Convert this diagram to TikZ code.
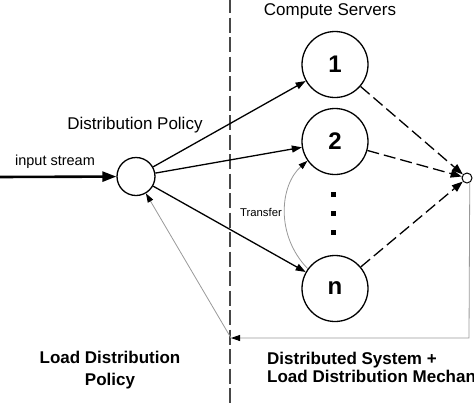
\documentclass[tikz,border=0pt]{standalone}
\usepackage{fontspec}
\setmainfont{Liberation Sans}
\usetikzlibrary{arrows.meta}
\begin{document}
\begin{tikzpicture}[x=1pt,y=-1pt,
  srv/.style={circle,draw,line width=1.3pt,minimum size=66pt,inner sep=0pt,font=\fontsize{24}{26}\selectfont\bfseries},
  dist/.style={circle,draw,line width=1.3pt,minimum size=38pt,inner sep=0pt},
  sink/.style={circle,draw,line width=1pt,minimum size=10pt,inner sep=0pt},
  flow/.style={line width=1.3pt,-{Triangle[length=10pt,width=7pt]}},
  outflow/.style={line width=1.3pt,dash pattern=on 12pt off 5pt,-{Triangle[length=11pt,width=8pt]}},
  back/.style={draw=black!40,line width=0.8pt},
  backarrow/.style={back,-{Triangle[length=9pt,width=6pt,color=black]}},
  lbl/.style={font=\fontsize{17}{20}\selectfont,inner sep=0pt,anchor=base},
  blbl/.style={font=\fontsize{17}{20}\selectfont\bfseries,inner sep=0pt,anchor=base},
  dotsq/.style={fill=black,minimum size=5pt,inner sep=0pt,rectangle}]
\useasboundingbox (0,0) rectangle (474,405);
\clip (0,0) rectangle (474,405);
% dashed separator
\draw[line width=2.4pt,black!72,dash pattern=on 15pt off 4.5pt] (230,-2) -- (230,407);
% nodes
\node[dist] (dp) at (136,176.5) {};
\node[srv] (s1) at (335,64.5) {1};
\node[srv] (s2) at (335,141.5) {2};
\node[srv] (sn) at (335,288.5) {n};
\node[sink] (out) at (467,178) {};
\node[dotsq] (d1) at (333,194) {};
\node[dotsq] (d2) at (333,213) {};
\node[dotsq] (d3) at (333,232) {};
\coordinate (in) at (-2,177);
\coordinate (corner) at (469,338);
\coordinate (fb) at (231,338);
% labels
\node[lbl] (cs) at (330,15) {Compute Servers};
\node[lbl] (dpl) at (135,129) {Distribution Policy};
\node[font=\fontsize{14.5}{16}\selectfont,inner sep=0pt,anchor=base] (isl) at (55,165) {input stream};
\node[font=\fontsize{11.3}{13}\selectfont,inner sep=0pt,anchor=base] (tl) at (261,216) {Transfer};
\node[blbl] (ldp1) at (110,363) {Load Distribution};
\node[blbl] (ldp2) at (110,385) {Policy};
\node[blbl,anchor=base west] (ds1) at (267,364) {Distributed System +};
\node[blbl,anchor=base west] (ds2) at (267,382) {Load Distribution Mechanism};
% input stream
\draw[line width=2.6pt,-{Triangle[length=14pt,width=10pt]}] (in) -- (dp);
% distribution arrows
\draw[flow] (dp) -- (s1);
\draw[flow] (dp) -- (s2);
\draw[flow] (dp) -- (sn);
% outputs
\draw[outflow] (s1) -- (out);
\draw[outflow] (s2) -- (out);
\draw[outflow] (sn) -- (out);
% transfer
\draw[backarrow] (sn.144) .. controls (275,235) and (280,185) .. (s2.215);
% feedback
\draw[backarrow] (out.300) -- (corner) -- (fb);
\draw[backarrow] (fb) -- (dp);
\end{tikzpicture}
\end{document}
